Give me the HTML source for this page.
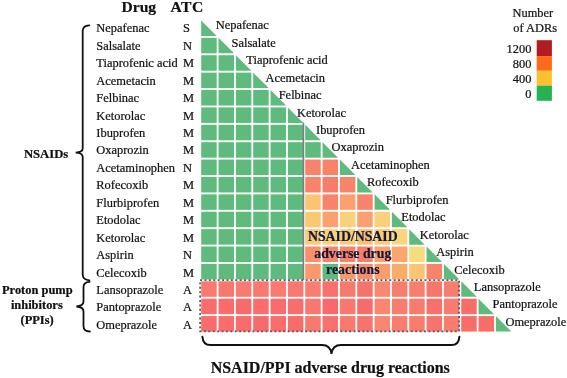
<!DOCTYPE html>
<html><head><meta charset="utf-8"><title>NSAID/PPI adverse drug reactions</title>
<style>html,body{margin:0;padding:0;background:#fff}svg{display:block}text{font-family:"Liberation Serif","Times New Roman",serif;fill:#111;stroke:#111;stroke-width:0.22px}.b{font-weight:bold}</style></head><body>
<svg width="567" height="378" viewBox="0 0 567 378">
<rect width="567" height="378" fill="#fff"/>
<path d="M201.20 20.45L216.70 35.95L201.20 35.95Z" fill="#5ebb7d"/>
<rect x="201.20" y="37.84" width="15.5" height="15.5" fill="#5ebb7d"/>
<path d="M218.53 37.84L234.03 53.34L218.53 53.34Z" fill="#5ebb7d"/>
<rect x="201.20" y="55.23" width="15.5" height="15.5" fill="#5ebb7d"/>
<rect x="218.53" y="55.23" width="15.5" height="15.5" fill="#5ebb7d"/>
<path d="M235.87 55.23L251.37 70.73L235.87 70.73Z" fill="#5ebb7d"/>
<rect x="201.20" y="72.62" width="15.5" height="15.5" fill="#5ebb7d"/>
<rect x="218.53" y="72.62" width="15.5" height="15.5" fill="#5ebb7d"/>
<rect x="235.87" y="72.62" width="15.5" height="15.5" fill="#5ebb7d"/>
<path d="M253.20 72.62L268.70 88.12L253.20 88.12Z" fill="#5ebb7d"/>
<rect x="201.20" y="90.01" width="15.5" height="15.5" fill="#5ebb7d"/>
<rect x="218.53" y="90.01" width="15.5" height="15.5" fill="#5ebb7d"/>
<rect x="235.87" y="90.01" width="15.5" height="15.5" fill="#5ebb7d"/>
<rect x="253.20" y="90.01" width="15.5" height="15.5" fill="#5ebb7d"/>
<path d="M270.54 90.01L286.04 105.51L270.54 105.51Z" fill="#5ebb7d"/>
<rect x="201.20" y="107.40" width="15.5" height="15.5" fill="#5ebb7d"/>
<rect x="218.53" y="107.40" width="15.5" height="15.5" fill="#5ebb7d"/>
<rect x="235.87" y="107.40" width="15.5" height="15.5" fill="#5ebb7d"/>
<rect x="253.20" y="107.40" width="15.5" height="15.5" fill="#5ebb7d"/>
<rect x="270.54" y="107.40" width="15.5" height="15.5" fill="#5ebb7d"/>
<path d="M287.88 107.40L303.38 122.90L287.88 122.90Z" fill="#5ebb7d"/>
<rect x="201.20" y="124.79" width="15.5" height="15.5" fill="#5ebb7d"/>
<rect x="218.53" y="124.79" width="15.5" height="15.5" fill="#5ebb7d"/>
<rect x="235.87" y="124.79" width="15.5" height="15.5" fill="#5ebb7d"/>
<rect x="253.20" y="124.79" width="15.5" height="15.5" fill="#5ebb7d"/>
<rect x="270.54" y="124.79" width="15.5" height="15.5" fill="#5ebb7d"/>
<rect x="287.88" y="124.79" width="15.5" height="15.5" fill="#5ebb7d"/>
<path d="M305.21 124.79L320.71 140.29L305.21 140.29Z" fill="#5ebb7d"/>
<rect x="201.20" y="142.18" width="15.5" height="15.5" fill="#5ebb7d"/>
<rect x="218.53" y="142.18" width="15.5" height="15.5" fill="#5ebb7d"/>
<rect x="235.87" y="142.18" width="15.5" height="15.5" fill="#5ebb7d"/>
<rect x="253.20" y="142.18" width="15.5" height="15.5" fill="#5ebb7d"/>
<rect x="270.54" y="142.18" width="15.5" height="15.5" fill="#5ebb7d"/>
<rect x="287.88" y="142.18" width="15.5" height="15.5" fill="#5ebb7d"/>
<rect x="305.21" y="142.18" width="15.5" height="15.5" fill="#5ebb7d"/>
<path d="M322.54 142.18L338.04 157.68L322.54 157.68Z" fill="#5ebb7d"/>
<rect x="201.20" y="159.57" width="15.5" height="15.5" fill="#5ebb7d"/>
<rect x="218.53" y="159.57" width="15.5" height="15.5" fill="#5ebb7d"/>
<rect x="235.87" y="159.57" width="15.5" height="15.5" fill="#5ebb7d"/>
<rect x="253.20" y="159.57" width="15.5" height="15.5" fill="#5ebb7d"/>
<rect x="270.54" y="159.57" width="15.5" height="15.5" fill="#5ebb7d"/>
<rect x="287.88" y="159.57" width="15.5" height="15.5" fill="#5ebb7d"/>
<rect x="305.21" y="159.57" width="15.5" height="15.5" fill="#f8836b"/>
<rect x="322.54" y="159.57" width="15.5" height="15.5" fill="#f8836b"/>
<path d="M339.88 159.57L355.38 175.07L339.88 175.07Z" fill="#5ebb7d"/>
<rect x="201.20" y="176.96" width="15.5" height="15.5" fill="#5ebb7d"/>
<rect x="218.53" y="176.96" width="15.5" height="15.5" fill="#5ebb7d"/>
<rect x="235.87" y="176.96" width="15.5" height="15.5" fill="#5ebb7d"/>
<rect x="253.20" y="176.96" width="15.5" height="15.5" fill="#5ebb7d"/>
<rect x="270.54" y="176.96" width="15.5" height="15.5" fill="#5ebb7d"/>
<rect x="287.88" y="176.96" width="15.5" height="15.5" fill="#5ebb7d"/>
<rect x="305.21" y="176.96" width="15.5" height="15.5" fill="#f8836b"/>
<rect x="322.54" y="176.96" width="15.5" height="15.5" fill="#f67d6a"/>
<rect x="339.88" y="176.96" width="15.5" height="15.5" fill="#f8836b"/>
<path d="M357.22 176.96L372.72 192.46L357.22 192.46Z" fill="#5ebb7d"/>
<rect x="201.20" y="194.35" width="15.5" height="15.5" fill="#5ebb7d"/>
<rect x="218.53" y="194.35" width="15.5" height="15.5" fill="#5ebb7d"/>
<rect x="235.87" y="194.35" width="15.5" height="15.5" fill="#5ebb7d"/>
<rect x="253.20" y="194.35" width="15.5" height="15.5" fill="#5ebb7d"/>
<rect x="270.54" y="194.35" width="15.5" height="15.5" fill="#5ebb7d"/>
<rect x="287.88" y="194.35" width="15.5" height="15.5" fill="#5ebb7d"/>
<rect x="305.21" y="194.35" width="15.5" height="15.5" fill="#fbc474"/>
<rect x="322.54" y="194.35" width="15.5" height="15.5" fill="#f8836b"/>
<rect x="339.88" y="194.35" width="15.5" height="15.5" fill="#fba06e"/>
<rect x="357.22" y="194.35" width="15.5" height="15.5" fill="#f8836b"/>
<path d="M374.55 194.35L390.05 209.85L374.55 209.85Z" fill="#5ebb7d"/>
<rect x="201.20" y="211.74" width="15.5" height="15.5" fill="#5ebb7d"/>
<rect x="218.53" y="211.74" width="15.5" height="15.5" fill="#5ebb7d"/>
<rect x="235.87" y="211.74" width="15.5" height="15.5" fill="#5ebb7d"/>
<rect x="253.20" y="211.74" width="15.5" height="15.5" fill="#5ebb7d"/>
<rect x="270.54" y="211.74" width="15.5" height="15.5" fill="#5ebb7d"/>
<rect x="287.88" y="211.74" width="15.5" height="15.5" fill="#5ebb7d"/>
<rect x="305.21" y="211.74" width="15.5" height="15.5" fill="#fac872"/>
<rect x="322.54" y="211.74" width="15.5" height="15.5" fill="#fba06e"/>
<rect x="339.88" y="211.74" width="15.5" height="15.5" fill="#fbd07a"/>
<rect x="357.22" y="211.74" width="15.5" height="15.5" fill="#fba06e"/>
<rect x="374.55" y="211.74" width="15.5" height="15.5" fill="#fbd07a"/>
<path d="M391.88 211.74L407.38 227.24L391.88 227.24Z" fill="#5ebb7d"/>
<rect x="201.20" y="229.13" width="15.5" height="15.5" fill="#5ebb7d"/>
<rect x="218.53" y="229.13" width="15.5" height="15.5" fill="#5ebb7d"/>
<rect x="235.87" y="229.13" width="15.5" height="15.5" fill="#5ebb7d"/>
<rect x="253.20" y="229.13" width="15.5" height="15.5" fill="#5ebb7d"/>
<rect x="270.54" y="229.13" width="15.5" height="15.5" fill="#5ebb7d"/>
<rect x="287.88" y="229.13" width="15.5" height="15.5" fill="#5ebb7d"/>
<rect x="305.21" y="229.13" width="15.5" height="15.5" fill="#fbca76"/>
<rect x="322.54" y="229.13" width="15.5" height="15.5" fill="#fbd07a"/>
<rect x="339.88" y="229.13" width="15.5" height="15.5" fill="#fbcb77"/>
<rect x="357.22" y="229.13" width="15.5" height="15.5" fill="#fbbf74"/>
<rect x="374.55" y="229.13" width="15.5" height="15.5" fill="#fbca76"/>
<rect x="391.88" y="229.13" width="15.5" height="15.5" fill="#f9d67b"/>
<path d="M409.22 229.13L424.72 244.63L409.22 244.63Z" fill="#5ebb7d"/>
<rect x="201.20" y="246.52" width="15.5" height="15.5" fill="#5ebb7d"/>
<rect x="218.53" y="246.52" width="15.5" height="15.5" fill="#5ebb7d"/>
<rect x="235.87" y="246.52" width="15.5" height="15.5" fill="#5ebb7d"/>
<rect x="253.20" y="246.52" width="15.5" height="15.5" fill="#5ebb7d"/>
<rect x="270.54" y="246.52" width="15.5" height="15.5" fill="#5ebb7d"/>
<rect x="287.88" y="246.52" width="15.5" height="15.5" fill="#5ebb7d"/>
<rect x="305.21" y="246.52" width="15.5" height="15.5" fill="#f98f6b"/>
<rect x="322.54" y="246.52" width="15.5" height="15.5" fill="#f8836b"/>
<rect x="339.88" y="246.52" width="15.5" height="15.5" fill="#f8836b"/>
<rect x="357.22" y="246.52" width="15.5" height="15.5" fill="#f57d69"/>
<rect x="374.55" y="246.52" width="15.5" height="15.5" fill="#fba06e"/>
<rect x="391.88" y="246.52" width="15.5" height="15.5" fill="#fba570"/>
<rect x="409.22" y="246.52" width="15.5" height="15.5" fill="#f5dc7c"/>
<path d="M426.56 246.52L442.06 262.02L426.56 262.02Z" fill="#5ebb7d"/>
<rect x="201.20" y="263.91" width="15.5" height="15.5" fill="#5ebb7d"/>
<rect x="218.53" y="263.91" width="15.5" height="15.5" fill="#5ebb7d"/>
<rect x="235.87" y="263.91" width="15.5" height="15.5" fill="#5ebb7d"/>
<rect x="253.20" y="263.91" width="15.5" height="15.5" fill="#5ebb7d"/>
<rect x="270.54" y="263.91" width="15.5" height="15.5" fill="#5ebb7d"/>
<rect x="287.88" y="263.91" width="15.5" height="15.5" fill="#5ebb7d"/>
<rect x="305.21" y="263.91" width="15.5" height="15.5" fill="#fa9a6c"/>
<rect x="322.54" y="263.91" width="15.5" height="15.5" fill="#5ebb7d"/>
<rect x="339.88" y="263.91" width="15.5" height="15.5" fill="#f99a6d"/>
<rect x="357.22" y="263.91" width="15.5" height="15.5" fill="#f98d6b"/>
<rect x="374.55" y="263.91" width="15.5" height="15.5" fill="#fa9c6c"/>
<rect x="391.88" y="263.91" width="15.5" height="15.5" fill="#f9ac6a"/>
<rect x="409.22" y="263.91" width="15.5" height="15.5" fill="#fbc474"/>
<rect x="426.56" y="263.91" width="15.5" height="15.5" fill="#f8836b"/>
<path d="M443.89 263.91L459.39 279.41L443.89 279.41Z" fill="#5ebb7d"/>
<rect x="201.20" y="281.30" width="15.5" height="15.5" fill="#fa7a70"/>
<rect x="218.53" y="281.30" width="15.5" height="15.5" fill="#f9776e"/>
<rect x="235.87" y="281.30" width="15.5" height="15.5" fill="#fa7970"/>
<rect x="253.20" y="281.30" width="15.5" height="15.5" fill="#f9786f"/>
<rect x="270.54" y="281.30" width="15.5" height="15.5" fill="#fa7a70"/>
<rect x="287.88" y="281.30" width="15.5" height="15.5" fill="#f9786f"/>
<rect x="305.21" y="281.30" width="15.5" height="15.5" fill="#f97d70"/>
<rect x="322.54" y="281.30" width="15.5" height="15.5" fill="#f8716c"/>
<rect x="339.88" y="281.30" width="15.5" height="15.5" fill="#f9796e"/>
<rect x="357.22" y="281.30" width="15.5" height="15.5" fill="#f8726c"/>
<rect x="374.55" y="281.30" width="15.5" height="15.5" fill="#fa8772"/>
<rect x="391.88" y="281.30" width="15.5" height="15.5" fill="#f97d6e"/>
<rect x="409.22" y="281.30" width="15.5" height="15.5" fill="#f97e6e"/>
<rect x="426.56" y="281.30" width="15.5" height="15.5" fill="#f8756c"/>
<rect x="443.89" y="281.30" width="15.5" height="15.5" fill="#f97c6e"/>
<path d="M461.23 281.30L476.73 296.80L461.23 296.80Z" fill="#5ebb7d"/>
<rect x="201.20" y="298.69" width="15.5" height="15.5" fill="#fa6d6c"/>
<rect x="218.53" y="298.69" width="15.5" height="15.5" fill="#fa6c6c"/>
<rect x="235.87" y="298.69" width="15.5" height="15.5" fill="#f96b6b"/>
<rect x="253.20" y="298.69" width="15.5" height="15.5" fill="#fa6d6c"/>
<rect x="270.54" y="298.69" width="15.5" height="15.5" fill="#fa6c6c"/>
<rect x="287.88" y="298.69" width="15.5" height="15.5" fill="#f96d6c"/>
<rect x="305.21" y="298.69" width="15.5" height="15.5" fill="#f9776e"/>
<rect x="322.54" y="298.69" width="15.5" height="15.5" fill="#f8696a"/>
<rect x="339.88" y="298.69" width="15.5" height="15.5" fill="#f9776d"/>
<rect x="357.22" y="298.69" width="15.5" height="15.5" fill="#f76b6a"/>
<rect x="374.55" y="298.69" width="15.5" height="15.5" fill="#fa8571"/>
<rect x="391.88" y="298.69" width="15.5" height="15.5" fill="#f97d6e"/>
<rect x="409.22" y="298.69" width="15.5" height="15.5" fill="#f97b6d"/>
<rect x="426.56" y="298.69" width="15.5" height="15.5" fill="#f7706b"/>
<rect x="443.89" y="298.69" width="15.5" height="15.5" fill="#f97b6e"/>
<rect x="461.23" y="298.69" width="15.5" height="15.5" fill="#f76d69"/>
<path d="M478.56 298.69L494.06 314.19L478.56 314.19Z" fill="#5ebb7d"/>
<rect x="201.20" y="316.08" width="15.5" height="15.5" fill="#fa6c6c"/>
<rect x="218.53" y="316.08" width="15.5" height="15.5" fill="#fa6d6c"/>
<rect x="235.87" y="316.08" width="15.5" height="15.5" fill="#fa6c6c"/>
<rect x="253.20" y="316.08" width="15.5" height="15.5" fill="#f96b6b"/>
<rect x="270.54" y="316.08" width="15.5" height="15.5" fill="#fa6d6c"/>
<rect x="287.88" y="316.08" width="15.5" height="15.5" fill="#fa6c6c"/>
<rect x="305.21" y="316.08" width="15.5" height="15.5" fill="#f9796e"/>
<rect x="322.54" y="316.08" width="15.5" height="15.5" fill="#f9716c"/>
<rect x="339.88" y="316.08" width="15.5" height="15.5" fill="#f9796e"/>
<rect x="357.22" y="316.08" width="15.5" height="15.5" fill="#f8736c"/>
<rect x="374.55" y="316.08" width="15.5" height="15.5" fill="#fa8571"/>
<rect x="391.88" y="316.08" width="15.5" height="15.5" fill="#f97d6e"/>
<rect x="409.22" y="316.08" width="15.5" height="15.5" fill="#f97c6d"/>
<rect x="426.56" y="316.08" width="15.5" height="15.5" fill="#f8736c"/>
<rect x="443.89" y="316.08" width="15.5" height="15.5" fill="#f97c6e"/>
<rect x="461.23" y="316.08" width="15.5" height="15.5" fill="#f76e69"/>
<rect x="478.56" y="316.08" width="15.5" height="15.5" fill="#f76e69"/>
<path d="M495.89 316.08L511.39 331.58L495.89 331.58Z" fill="#5ebb7d"/>
<line x1="303.40" y1="122.7" x2="303.40" y2="280" stroke="#7e7e7e" stroke-width="1.7"/>
<rect x="200.1" y="280.2" width="258.95" height="51.1" fill="none" stroke="#505962" stroke-width="1.8" stroke-dasharray="1.9 2.5"/>
<text transform="translate(215.70,29.40) scale(1,1.06)" font-size="12.45">Nepafenac</text>
<text transform="translate(231.50,46.84) scale(1,1.06)" font-size="12.45">Salsalate</text>
<text transform="translate(246.30,64.28) scale(1,1.06)" font-size="12.45">Tiaprofenic acid</text>
<text transform="translate(265.60,81.72) scale(1,1.06)" font-size="12.45">Acemetacin</text>
<text transform="translate(278.70,99.16) scale(1,1.06)" font-size="12.45">Felbinac</text>
<text transform="translate(296.90,116.60) scale(1,1.06)" font-size="12.45">Ketorolac</text>
<text transform="translate(316.00,134.04) scale(1,1.06)" font-size="12.45">Ibuprofen</text>
<text transform="translate(331.50,151.48) scale(1,1.06)" font-size="12.45">Oxaprozin</text>
<text transform="translate(351.10,168.92) scale(1,1.06)" font-size="12.45">Acetaminophen</text>
<text transform="translate(366.90,186.36) scale(1,1.06)" font-size="12.45">Rofecoxib</text>
<text transform="translate(385.70,203.80) scale(1,1.06)" font-size="12.45">Flurbiprofen</text>
<text transform="translate(401.30,221.24) scale(1,1.06)" font-size="12.45">Etodolac</text>
<text transform="translate(419.80,238.68) scale(1,1.06)" font-size="12.45">Ketorolac</text>
<text transform="translate(436.30,256.12) scale(1,1.06)" font-size="12.45">Aspirin</text>
<text transform="translate(454.30,273.56) scale(1,1.06)" font-size="12.45">Celecoxib</text>
<text transform="translate(473.80,291.00) scale(1,1.06)" font-size="12.45">Lansoprazole</text>
<text transform="translate(492.60,308.44) scale(1,1.06)" font-size="12.45">Pantoprazole</text>
<text transform="translate(505.40,325.88) scale(1,1.06)" font-size="12.45">Omeprazole</text>
<text transform="translate(96.30,32.35) scale(1,1.06)" font-size="12.45">Nepafenac</text>
<text transform="translate(183.10,32.35) scale(1,1.06)" font-size="12.45">S</text>
<text transform="translate(96.30,49.79) scale(1,1.06)" font-size="12.45">Salsalate</text>
<text transform="translate(183.10,49.79) scale(1,1.06)" font-size="12.45">N</text>
<text transform="translate(96.30,67.23) scale(1,1.06)" font-size="12.45">Tiaprofenic acid</text>
<text transform="translate(183.10,67.23) scale(1,1.06)" font-size="12.45">M</text>
<text transform="translate(96.30,84.67) scale(1,1.06)" font-size="12.45">Acemetacin</text>
<text transform="translate(183.10,84.67) scale(1,1.06)" font-size="12.45">M</text>
<text transform="translate(96.30,102.11) scale(1,1.06)" font-size="12.45">Felbinac</text>
<text transform="translate(183.10,102.11) scale(1,1.06)" font-size="12.45">M</text>
<text transform="translate(96.30,119.55) scale(1,1.06)" font-size="12.45">Ketorolac</text>
<text transform="translate(183.10,119.55) scale(1,1.06)" font-size="12.45">M</text>
<text transform="translate(96.30,136.99) scale(1,1.06)" font-size="12.45">Ibuprofen</text>
<text transform="translate(183.10,136.99) scale(1,1.06)" font-size="12.45">M</text>
<text transform="translate(96.30,154.43) scale(1,1.06)" font-size="12.45">Oxaprozin</text>
<text transform="translate(183.10,154.43) scale(1,1.06)" font-size="12.45">M</text>
<text transform="translate(96.30,171.87) scale(1,1.06)" font-size="12.45">Acetaminophen</text>
<text transform="translate(183.10,171.87) scale(1,1.06)" font-size="12.45">N</text>
<text transform="translate(96.30,189.31) scale(1,1.06)" font-size="12.45">Rofecoxib</text>
<text transform="translate(183.10,189.31) scale(1,1.06)" font-size="12.45">M</text>
<text transform="translate(96.30,206.75) scale(1,1.06)" font-size="12.45">Flurbiprofen</text>
<text transform="translate(183.10,206.75) scale(1,1.06)" font-size="12.45">M</text>
<text transform="translate(96.30,224.19) scale(1,1.06)" font-size="12.45">Etodolac</text>
<text transform="translate(183.10,224.19) scale(1,1.06)" font-size="12.45">M</text>
<text transform="translate(96.30,241.63) scale(1,1.06)" font-size="12.45">Ketorolac</text>
<text transform="translate(183.10,241.63) scale(1,1.06)" font-size="12.45">M</text>
<text transform="translate(96.30,259.07) scale(1,1.06)" font-size="12.45">Aspirin</text>
<text transform="translate(183.10,259.07) scale(1,1.06)" font-size="12.45">N</text>
<text transform="translate(96.30,276.51) scale(1,1.06)" font-size="12.45">Celecoxib</text>
<text transform="translate(183.10,276.51) scale(1,1.06)" font-size="12.45">M</text>
<text transform="translate(96.30,293.95) scale(1,1.06)" font-size="12.45">Lansoprazole</text>
<text transform="translate(183.10,293.95) scale(1,1.06)" font-size="12.45">A</text>
<text transform="translate(96.30,311.39) scale(1,1.06)" font-size="12.45">Pantoprazole</text>
<text transform="translate(183.10,311.39) scale(1,1.06)" font-size="12.45">A</text>
<text transform="translate(96.30,328.83) scale(1,1.06)" font-size="12.45">Omeprazole</text>
<text transform="translate(183.10,328.83) scale(1,1.06)" font-size="12.45">A</text>
<text transform="translate(121.50,11.60) scale(1,0.98)" font-size="15.6" class="b">Drug</text>
<text transform="translate(170.40,11.60) scale(1,0.98)" font-size="15.6" class="b" letter-spacing="0.5">ATC</text>
<text transform="translate(46.10,157.60) scale(1,1.03)" font-size="12.7" class="b" text-anchor="middle">NSAIDs</text>
<text transform="translate(37.30,294.40) scale(1,1.03)" font-size="12.45" class="b" text-anchor="middle">Proton pump</text>
<text transform="translate(36.80,309.40) scale(1,1.03)" font-size="12.45" class="b" text-anchor="middle">inhibitors</text>
<text transform="translate(37.10,324.00) scale(1,1.03)" font-size="12.45" class="b" text-anchor="middle">(PPIs)</text>
<path d="M89.3 25.3C84.6 25.5 82.7 27.2 82.7 31L82.7 148.6C82.7 151.2 80.9 152.4 75.7 152.7C80.9 153 82.7 154.2 82.7 156.8L82.7 274.6C82.7 278.4 84.6 280.1 89.4 280.3" fill="none" stroke="#111" stroke-width="1.8" stroke-linecap="round"/>
<path d="M89.6 281.9C85.3 282.1 83.5 283.7 83.5 287.2L83.5 301.6C83.5 304.6 81.6 306.1 76.4 306.5C81.6 306.9 83.5 308.4 83.5 311.4L83.5 326.2C83.5 329.7 85.3 331.3 89.9 331.5" fill="none" stroke="#111" stroke-width="1.8" stroke-linecap="round"/>
<path transform="translate(0,0.6)" d="M202.4 336.1C202.8 341.8 205 344.5 210.5 344.5L322 344.5C327.5 344.5 330.8 347 331.5 353.4C332.2 347 335.5 344.5 341 344.5L451.5 344.5C457 344.5 459 341.8 459.4 336.1" fill="none" stroke="#111" stroke-width="2" stroke-linecap="round"/>
<text transform="translate(330.20,372.70) scale(1,1.03)" font-size="16.0" class="b" text-anchor="middle">NSAID/PPI adverse drug reactions</text>
<text transform="translate(352.80,241.00) scale(1,1.0)" font-size="13.8" class="b" text-anchor="middle" style="fill:#141833;stroke:#141833">NSAID/NSAID</text>
<text transform="translate(352.80,257.90) scale(1,1.0)" font-size="13.8" class="b" text-anchor="middle" style="fill:#141833;stroke:#141833">adverse drug</text>
<text transform="translate(352.80,274.00) scale(1,1.0)" font-size="13.8" class="b" text-anchor="middle" style="fill:#141833;stroke:#141833">reactions</text>
<text transform="translate(532.90,17.40) scale(1,1.06)" font-size="12.4" text-anchor="middle">Number</text>
<text transform="translate(535.10,32.40) scale(1,1.06)" font-size="12.4" text-anchor="middle">of ADRs</text>
<text transform="translate(531.40,52.90) scale(1,1.06)" font-size="12.4" text-anchor="end">1200</text>
<text transform="translate(531.40,67.90) scale(1,1.06)" font-size="12.4" text-anchor="end">800</text>
<text transform="translate(531.40,82.90) scale(1,1.06)" font-size="12.4" text-anchor="end">400</text>
<text transform="translate(531.40,97.90) scale(1,1.06)" font-size="12.4" text-anchor="end">0</text>
<rect x="536.7" y="40.2" width="15.2" height="16.00" fill="#b01c1f"/>
<rect x="536.7" y="56.1" width="15.2" height="14.70" fill="#fd6a1a"/>
<rect x="536.7" y="70.7" width="15.2" height="15.10" fill="#fbc131"/>
<rect x="536.7" y="85.7" width="15.2" height="15.10" fill="#25b250"/>
</svg></body></html>
